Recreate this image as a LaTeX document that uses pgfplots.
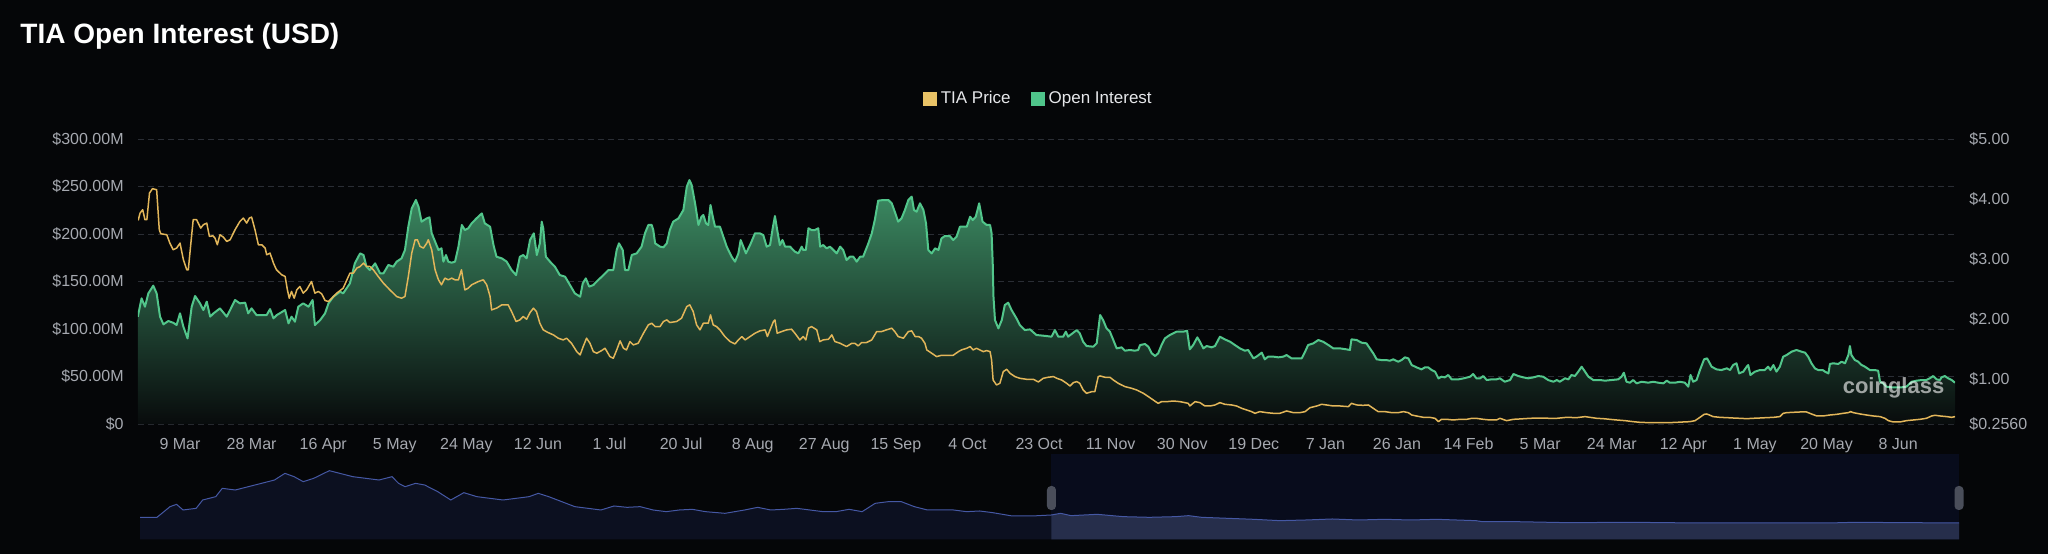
\documentclass[border=0pt]{standalone}
\usepackage{fontspec}
\setmainfont{Liberation Sans}
\usepackage{pgfplots}
\usepackage{pgfplotstable}
\pgfplotsset{compat=1.18}
\definecolor{bg}{HTML}{050608}
\definecolor{tickc}{HTML}{A6A9B0}
\definecolor{gridc}{HTML}{2A2D34}
\definecolor{oiC}{HTML}{52C68B}
\definecolor{priceC}{HTML}{E2B65A}
\definecolor{fillTop}{HTML}{3E9066}
\definecolor{fillBot}{HTML}{080B0C}
\definecolor{legY}{HTML}{E9C266}
\definecolor{legG}{HTML}{4FC48A}
\definecolor{legT}{HTML}{E6E7EA}
\definecolor{mmFill}{HTML}{0C1020}
\definecolor{mmLine}{HTML}{4558A4}
\definecolor{selBg}{HTML}{080C1C}
\definecolor{mmSel}{HTML}{262E4B}
\definecolor{handleC}{HTML}{4A4E5A}

\pgfplotstableread{
d v
-11.2 113.0
-10.2 132.3
-9.3 123.5
-8.4 137.5
-7.1 145.6
-6.2 137.5
-5.3 113.0
-4.4 104.9
-3.1 108.4
-1.8 106.6
-0.9 104.2
0.0 116.5
0.9 102.4
2.0 90.1
3.1 123.5
4.0 134.7
5.3 127.0
6.2 120.0
7.1 128.8
8.0 113.0
8.9 116.5
10.6 121.7
12.4 113.0
13.3 120.0
14.6 130.5
15.9 127.0
17.3 127.7
18.1 116.5
19.0 121.7
20.3 114.7
23.0 114.7
23.9 121.0
24.8 111.2
25.7 114.7
27.9 120.0
28.8 105.9
29.6 113.0
30.5 107.7
31.4 123.5
32.7 127.0
34.1 123.5
35.2 130.5
35.8 104.2
37.2 109.4
38.5 116.5
39.4 127.0
40.7 134.0
42.5 139.3
43.3 137.5
45.1 148.1
46.4 169.1
47.8 179.6
48.7 177.9
49.5 165.6
50.4 162.1
51.8 169.1
53.1 158.6
54.0 158.6
55.3 167.4
56.6 165.6
57.5 170.9
58.8 174.4
59.7 183.2
60.6 207.7
61.5 227.0
62.6 235.8
63.3 228.8
64.1 213.0
65.5 216.5
66.2 217.5
66.8 200.7
67.7 192.0
68.6 183.2
69.4 184.9
69.9 170.9
70.6 177.9
71.2 170.9
72.1 169.8
73.0 170.9
73.9 186.7
74.8 209.5
75.6 204.2
76.5 206.0
77.4 211.2
78.7 216.5
80.1 221.7
80.9 211.2
82.3 207.7
83.2 188.4
84.0 176.1
85.4 174.4
86.7 170.9
88.0 162.1
89.2 156.8
90.2 176.1
91.1 177.9
92.0 174.4
92.9 193.7
93.9 200.7
94.7 177.9
95.5 190.2
96.0 213.0
96.4 206.0
97.1 176.1
98.2 170.9
99.5 165.6
100.8 156.8
102.2 155.1
103.5 146.3
104.8 137.5
106.2 134.0
106.9 148.1
107.7 153.3
108.6 144.6
109.7 146.3
111.0 151.6
112.4 156.8
113.7 162.1
115.0 162.1
115.9 183.2
116.5 190.2
117.5 183.2
118.1 162.1
119.0 162.1
119.9 177.9
121.2 179.6
122.5 186.7
123.4 200.7
124.3 209.5
125.2 209.5
125.6 204.2
126.1 190.2
127.4 186.7
128.3 186.0
129.2 190.2
130.0 204.2
130.9 213.0
132.3 216.5
133.6 225.3
134.5 249.8
135.2 256.8
135.8 251.6
136.7 232.3
137.6 209.5
138.4 218.2
138.9 220.0
139.6 211.2
140.2 209.5
140.8 230.5
141.4 218.2
142.0 207.7
143.3 207.7
144.2 197.2
145.1 186.7
146.4 176.1
147.3 170.9
148.2 179.6
148.8 193.7
149.5 186.7
150.2 179.6
151.3 188.4
152.6 200.7
153.9 200.7
154.8 198.9
155.7 186.7
156.6 188.4
157.3 206.0
157.9 218.9
158.5 204.2
159.2 188.4
159.9 193.7
160.6 186.7
161.9 186.7
163.2 181.4
164.1 179.6
165.0 186.7
165.4 183.2
166.1 183.2
166.8 206.0
167.6 204.2
168.5 204.2
169.4 206.0
169.9 186.7
170.7 188.4
171.6 184.9
172.5 186.7
173.4 183.2
174.3 179.6
175.2 186.7
176.0 183.2
176.9 172.6
177.8 176.1
178.7 176.1
179.6 170.9
180.5 176.1
181.3 176.1
182.7 190.2
183.6 200.7
184.4 214.7
185.3 235.1
186.7 235.8
188.0 235.8
188.9 232.3
189.7 223.5
190.6 213.0
191.5 216.5
192.4 225.3
193.3 235.8
194.2 239.3
194.8 225.3
195.5 223.5
196.4 232.3
197.3 225.3
198.0 211.2
198.6 183.2
199.5 179.6
200.4 184.9
201.3 183.2
202.1 195.4
203.0 197.9
204.3 197.9
205.2 193.7
206.1 197.2
207.0 207.7
208.8 207.7
209.7 218.2
210.4 214.7
211.2 218.2
212.1 232.3
213.0 213.0
214.1 209.5
215.0 209.5
215.4 200.7
215.7 169.1
215.9 134.0
216.3 109.4
217.2 100.7
218.1 109.4
218.9 125.2
219.8 127.7
220.7 120.0
222.0 111.2
222.9 104.2
224.2 98.9
225.6 99.6
227.3 93.7
230.0 92.6
231.3 91.9
232.2 98.9
233.1 91.9
234.4 91.9
235.1 97.2
235.7 91.9
238.0 98.9
238.8 95.4
239.7 86.6
240.6 82.1
242.4 81.4
243.3 84.9
244.2 114.7
245.0 109.4
245.9 100.7
246.8 97.2
247.7 88.4
248.6 79.6
249.9 80.7
250.8 77.2
252.1 77.9
253.4 77.2
254.3 77.9
254.8 83.1
256.1 84.2
257.0 81.4
257.9 74.4
258.8 71.6
259.6 74.4
260.5 83.1
261.4 90.1
262.7 93.7
264.5 97.2
266.3 97.2
267.3 98.2
268.0 78.6
268.9 83.1
270.0 91.2
270.7 86.6
271.6 79.6
272.5 82.1
273.8 80.7
274.7 82.1
276.0 91.9
277.3 89.1
278.7 86.6
280.0 83.1
281.3 79.6
282.6 77.2
283.5 77.9
284.9 69.1
285.7 70.9
287.1 75.1
287.9 68.1
288.8 70.9
290.2 70.9
291.5 70.2
292.8 70.9
293.7 72.6
295.0 69.1
296.4 69.1
297.7 69.1
298.6 76.1
299.4 83.1
300.8 84.9
302.1 88.4
303.4 86.6
304.8 83.1
306.1 79.6
307.9 79.6
309.6 78.6
310.5 77.9
310.9 89.1
312.3 88.4
313.6 85.6
314.9 84.9
315.8 79.6
316.7 74.4
317.6 68.1
318.9 67.3
320.2 67.3
321.1 66.6
322.0 68.1
323.3 65.6
324.2 67.3
325.1 70.2
326.0 69.1
326.9 62.1
328.2 59.6
329.5 57.5
330.4 59.6
331.3 59.6
332.2 56.8
333.1 55.1
334.0 48.0
334.8 49.8
335.7 49.1
336.6 51.6
337.5 47.0
339.3 47.0
340.6 48.0
342.4 49.8
343.2 52.6
344.1 48.0
345.0 48.0
345.9 50.5
346.8 46.3
348.1 47.0
349.4 47.0
350.3 48.1
351.6 44.5
353.0 46.3
353.9 52.6
355.2 50.5
356.5 49.1
357.8 48.1
359.2 49.1
360.5 50.5
361.8 49.8
363.1 46.3
364.5 44.5
365.4 46.3
366.2 44.5
367.6 48.1
368.5 47.0
369.3 51.6
370.2 50.5
371.1 55.1
372.0 60.3
372.9 55.1
373.8 49.8
375.1 46.3
376.9 46.3
378.2 45.6
379.9 46.3
381.7 47.0
382.6 49.8
383.2 54.0
383.9 44.5
384.8 43.5
385.7 46.3
386.6 42.8
387.9 44.5
389.7 43.5
391.0 44.5
392.3 43.5
393.7 42.8
394.6 45.6
395.4 43.5
396.8 43.5
398.1 44.5
399.4 43.5
400.3 39.3
400.9 51.6
401.6 44.5
402.5 46.3
403.4 56.8
404.5 68.1
405.3 69.1
406.5 60.3
407.8 57.5
409.1 56.8
410.5 58.6
411.4 56.8
412.2 62.1
413.1 63.9
413.8 53.3
414.9 55.1
415.8 60.3
416.2 62.1
416.8 51.6
418.0 55.1
419.3 56.8
420.6 56.8
421.5 60.3
422.1 56.8
422.9 62.1
423.7 55.1
424.6 60.3
425.5 70.9
426.4 72.6
427.7 76.1
429.0 77.9
430.4 76.1
431.3 75.1
432.1 70.9
433.0 63.9
433.9 58.6
434.8 56.8
436.0 56.8
436.6 55.1
437.5 53.3
437.9 63.2
438.8 63.9
440.1 63.2
441.0 65.6
441.9 63.9
442.8 72.6
443.2 82.1
443.6 72.6
444.5 67.4
445.4 65.6
446.3 62.1
447.2 60.3
448.5 56.8
449.8 56.8
450.7 56.1
451.2 44.5
452.0 42.8
452.9 39.3
454.3 38.6
455.6 38.6
456.9 38.6
458.2 39.3
459.6 44.5
460.9 45.6
462.2 46.3
463.5 46.3
464.4 48.1
465.3 50.5
466.2 47.0
467.1 46.3
467.5 49.1
468.4 50.5
469.3 48.1
470.2 46.3
471.1 43.5
}\oitable

\pgfplotstableread{
d v
-11.1 3.645
-10.6 3.767
-9.9 3.823
-9.3 3.656
-8.8 3.656
-8.1 4.100
-7.3 4.173
-6.2 4.156
-5.5 3.489
-5.1 3.423
-3.5 3.406
-2.7 3.267
-1.8 3.156
-0.9 3.184
0.0 3.267
0.9 2.989
1.8 2.823
2.2 2.823
2.8 3.212
3.5 3.656
4.4 3.656
5.5 3.517
6.2 3.573
7.1 3.600
7.8 3.378
8.7 3.389
9.3 3.350
9.9 3.239
10.6 3.406
11.5 3.367
12.4 3.295
13.3 3.323
14.6 3.489
15.9 3.628
16.8 3.684
17.7 3.600
18.4 3.684
19.0 3.700
19.9 3.489
20.8 3.239
21.7 3.239
22.6 3.184
23.0 3.073
23.9 3.100
24.8 2.934
25.6 2.823
27.0 2.739
27.9 2.712
28.5 2.489
29.0 2.350
29.6 2.462
30.3 2.350
31.0 2.489
31.8 2.545
32.7 2.434
33.6 2.489
34.9 2.628
35.8 2.434
36.7 2.462
37.6 2.423
38.5 2.312
39.4 2.295
40.3 2.350
41.6 2.434
43.3 2.517
45.1 2.767
46.0 2.767
46.9 2.850
47.8 2.878
48.7 2.934
49.5 2.878
50.4 2.878
51.3 2.823
52.6 2.712
54.0 2.600
55.7 2.489
57.5 2.378
58.8 2.350
59.7 2.378
60.6 2.712
61.5 3.100
62.4 3.323
63.0 3.323
63.7 3.212
64.6 3.184
65.5 3.267
65.9 3.323
66.8 3.156
67.7 2.823
68.6 2.656
69.4 2.573
70.3 2.684
71.2 2.656
72.1 2.684
73.0 2.656
73.9 2.656
74.7 2.823
75.6 2.489
76.5 2.517
77.4 2.573
79.2 2.628
80.5 2.656
81.4 2.573
82.3 2.378
82.7 2.156
84.0 2.184
85.4 2.239
87.1 2.239
88.0 2.128
89.2 1.962
90.2 1.989
91.1 2.045
92.0 2.000
92.9 2.112
93.8 2.184
94.6 2.128
95.5 1.934
96.4 1.823
97.7 1.778
99.1 1.739
100.4 1.684
101.7 1.656
102.6 1.684
103.9 1.600
105.3 1.461
106.2 1.406
107.0 1.545
107.9 1.684
108.8 1.600
109.7 1.461
110.6 1.434
111.9 1.478
112.8 1.517
114.1 1.378
115.0 1.350
115.9 1.489
116.8 1.640
117.7 1.517
118.5 1.489
119.4 1.628
120.3 1.573
121.6 1.600
123.0 1.767
124.3 1.906
125.2 1.934
126.1 1.878
127.4 1.878
128.3 1.962
129.2 1.989
130.0 1.945
131.8 1.962
133.1 2.017
134.5 2.212
135.3 2.239
136.2 2.128
137.1 1.906
138.0 1.823
138.9 1.934
140.2 1.934
140.8 2.073
141.5 1.906
142.4 1.878
143.3 1.823
144.6 1.712
146.0 1.628
147.3 1.589
148.2 1.656
149.1 1.712
150.0 1.656
151.3 1.712
152.6 1.767
153.9 1.806
155.3 1.823
155.9 1.712
156.6 1.823
157.5 1.962
157.9 1.989
158.5 1.767
159.7 1.795
161.0 1.823
162.3 1.834
163.2 1.767
164.5 1.656
165.4 1.712
166.1 1.656
166.8 1.851
167.6 1.878
169.0 1.823
169.8 1.628
170.7 1.656
172.1 1.667
173.0 1.739
173.8 1.628
175.2 1.600
176.9 1.545
178.3 1.600
179.1 1.600
180.0 1.556
180.9 1.612
182.2 1.612
183.6 1.656
184.9 1.795
186.2 1.795
187.5 1.823
188.9 1.851
189.7 1.795
190.6 1.712
192.0 1.684
193.3 1.795
194.2 1.806
195.1 1.712
196.0 1.712
196.8 1.684
197.7 1.600
198.2 1.489
199.5 1.434
200.8 1.378
202.1 1.400
203.5 1.400
205.2 1.400
206.6 1.461
207.4 1.489
208.8 1.517
209.7 1.545
210.5 1.489
211.4 1.517
212.3 1.489
213.2 1.461
214.1 1.478
215.0 1.461
215.4 1.323
215.8 0.989
216.7 0.906
217.6 0.934
218.5 1.128
219.4 1.167
220.3 1.100
221.6 1.045
222.9 1.017
224.7 1.000
226.5 1.000
227.8 0.956
229.1 1.017
230.4 1.034
231.8 1.045
232.7 1.017
234.0 0.989
235.3 0.934
236.2 0.889
237.1 0.945
238.0 0.962
238.8 0.934
239.7 0.823
240.6 0.767
242.0 0.795
242.8 0.795
243.7 1.045
244.2 1.056
245.5 1.034
246.8 1.034
247.7 0.989
249.0 0.934
250.8 0.878
252.6 0.850
253.9 0.823
255.7 0.767
257.0 0.712
258.3 0.656
259.6 0.600
260.5 0.628
261.9 0.628
263.6 0.639
265.4 0.628
266.7 0.612
267.6 0.600
268.0 0.556
269.4 0.628
270.7 0.612
272.0 0.556
273.4 0.556
274.7 0.573
276.0 0.612
277.3 0.584
279.1 0.573
280.4 0.556
281.8 0.517
283.1 0.489
284.4 0.462
285.3 0.434
286.6 0.462
288.4 0.445
290.2 0.434
291.9 0.434
293.7 0.473
295.5 0.445
297.2 0.445
298.6 0.462
299.9 0.528
301.7 0.556
303.0 0.584
304.3 0.573
306.1 0.556
307.9 0.556
310.1 0.545
310.9 0.600
312.3 0.573
314.0 0.567
315.4 0.573
316.7 0.517
318.0 0.462
319.8 0.462
321.6 0.445
323.3 0.445
324.7 0.462
326.0 0.445
326.9 0.406
328.2 0.389
330.0 0.367
331.7 0.367
333.1 0.350
334.0 0.295
334.8 0.334
336.2 0.334
337.9 0.323
339.7 0.334
341.5 0.334
342.8 0.350
344.1 0.350
345.9 0.334
347.7 0.323
349.4 0.323
350.3 0.351
352.1 0.312
353.9 0.334
355.6 0.340
358.3 0.351
360.9 0.356
363.6 0.351
365.4 0.351
368.0 0.367
370.7 0.362
372.9 0.379
374.2 0.367
376.0 0.351
377.7 0.345
379.5 0.334
381.3 0.323
383.5 0.312
385.7 0.295
387.5 0.284
389.7 0.279
391.9 0.279
393.7 0.279
395.4 0.279
397.2 0.284
399.0 0.290
400.7 0.295
402.1 0.312
403.4 0.367
404.5 0.417
405.2 0.423
406.1 0.401
406.9 0.379
408.7 0.367
410.5 0.362
412.2 0.356
414.0 0.351
415.8 0.345
417.5 0.351
419.3 0.356
421.1 0.362
422.9 0.367
424.6 0.379
425.5 0.434
426.4 0.445
428.2 0.451
429.9 0.456
431.7 0.456
433.0 0.423
434.4 0.390
436.1 0.390
437.9 0.406
439.7 0.417
441.4 0.434
442.8 0.445
443.4 0.462
444.1 0.445
445.9 0.423
447.6 0.406
449.4 0.390
451.2 0.379
452.5 0.351
453.4 0.312
454.7 0.290
456.5 0.290
458.2 0.312
460.0 0.323
461.8 0.334
463.5 0.351
464.9 0.390
465.8 0.401
467.1 0.390
468.9 0.379
470.2 0.367
471.1 0.379
}\pricetable

\pgfplotstableread{
x v
107 66
120 66
130 98
135 105
140 88
150 93
155 118
165 128
170 153
180 148
190 158
200 168
210 178
218 198
225 188
232 173
240 183
252 206
260 198
270 188
280 183
290 178
300 188
305 168
310 158
318 168
325 163
335 143
345 118
355 140
365 128
375 123
385 118
395 123
405 128
412 138
420 128
430 113
440 98
450 93
460 88
470 100
480 96
490 98
500 88
510 83
520 88
530 90
540 83
555 78
570 88
580 96
590 88
600 90
610 93
620 88
630 83
640 83
650 90
660 83
670 108
680 113
690 113
700 98
710 88
720 88
730 88
740 83
750 85
760 80
775 70
790 70
805 73
812 78
820 71
840 75
860 68
880 66
900 68
910 71
920 66
940 63
960 60
980 56
1000 58
1020 61
1040 58
1060 60
1080 58
1100 60
1130 56
1135 53
1160 53
1200 50
1250 51
1300 49
1350 49
1400 49
1420 51
1460 50
1500 49
}\mmtable

\begin{document}
\begin{tikzpicture}[x=1pt,y=1pt]
\useasboundingbox (0,0) rectangle (1024,277);
\fill[bg] (0,0) rectangle (1024,277);
\node[anchor=base west, inner sep=0pt, text=white, font=\fontsize{14}{16}\selectfont\bfseries] at (10,255.5) {TIA Open Interest (USD)};

\begin{axis}[
  at={(69pt,65pt)}, anchor=south west, scale only axis,
  width=908.5pt, height=142.5pt,
  xmin=-11.15, xmax=471.1, ymin=0, ymax=300,
  axis line style={draw=none}, major tick length=0pt,
  xtick={0,19,...,456},
  xticklabels={9 Mar,28 Mar,16 Apr,5 May,24 May,12 Jun,1 Jul,20 Jul,8 Aug,27 Aug,15 Sep,4 Oct,23 Oct,11 Nov,30 Nov,19 Dec,7 Jan,26 Jan,14 Feb,5 Mar,24 Mar,12 Apr,1 May,20 May,8 Jun},
  ytick={0,50,100,150,200,250,300},
  yticklabels={\$0,\$50.00M,\$100.00M,\$150.00M,\$200.00M,\$250.00M,\$300.00M},
  ymajorgrids, xmajorgrids=false,
  major grid style={color=gridc, dash pattern=on 3pt off 2pt, line width=0.5pt},
  tick label style={font=\fontsize{8}{9}\selectfont, text=tickc},
  xticklabel style={anchor=base, inner sep=0pt, yshift=-12.75pt},
  yticklabel style={anchor=east, inner sep=0pt, xshift=-7pt},
  legend style={at={(0.496,1.14)}, anchor=center, draw=none, fill=none,
    text=legT, font=\fontsize{8.5}{10}\selectfont, legend columns=2,
    /tikz/every even column/.append style={column sep=8pt}},
]
\addlegendimage{legend image code/.code={\fill[legY] (0pt,-3.3pt) rectangle (6.6pt,3.3pt);}}
\addlegendentry{TIA Price}
\addlegendimage{legend image code/.code={\fill[legG] (0pt,-3.3pt) rectangle (6.6pt,3.3pt);}}
\addlegendentry{Open Interest}
\addplot[draw=none, top color=fillTop, bottom color=fillBot, forget plot] table[x=d,y=v]{\oitable} \closedcycle;
\addplot[draw=oiC, line width=1pt, line join=round, forget plot] table[x=d,y=v]{\oitable};
\end{axis}

\begin{axis}[
  at={(69pt,65pt)}, anchor=south west, scale only axis,
  width=908.5pt, height=142.5pt,
  xmin=-11.15, xmax=471.1, ymin=0.256, ymax=5,
  axis y line*=right, hide x axis,
  axis line style={draw=none}, major tick length=0pt,
  ytick={0.256,1,2,3,4,5},
  yticklabels={\$0.2560,\$1.00,\$2.00,\$3.00,\$4.00,\$5.00},
  tick label style={font=\fontsize{8}{9}\selectfont, text=tickc},
  yticklabel style={anchor=west, inner sep=0pt, xshift=7pt},
]
\addplot[draw=priceC, line width=0.75pt, line join=round] table[x=d,y=v]{\pricetable};
\end{axis}

\node[text=white, opacity=0.6, font=\fontsize{11}{12}\selectfont\bfseries] at (946.75,83) {coinglass};

\begin{axis}[
  at={(70pt,7.35pt)}, anchor=south west, scale only axis,
  width=909.5pt, height=42.65pt,
  xmin=107, xmax=1500, ymin=0, ymax=256,
  hide axis, clip=false,
]
\addplot[fill=selBg, draw=none] coordinates {(805,256) (1500,256)} \closedcycle;
\addplot[fill=mmFill, draw=none] table[x=x,y=v]{\mmtable} \closedcycle;
\addplot[fill=mmSel, draw=none, restrict x to domain=805:1500] table[x=x,y=v]{\mmtable} \closedcycle;
\addplot[draw=mmLine, line width=0.5pt] table[x=x,y=v]{\mmtable};
\node[fill=handleC, rounded corners=2pt, minimum width=4.5pt, minimum height=12pt, inner sep=0pt] at (axis cs:805,124) {};
\node[fill=handleC, rounded corners=2pt, minimum width=4.5pt, minimum height=12pt, inner sep=0pt] at (axis cs:1500,124) {};
\end{axis}
\end{tikzpicture}
\end{document}
